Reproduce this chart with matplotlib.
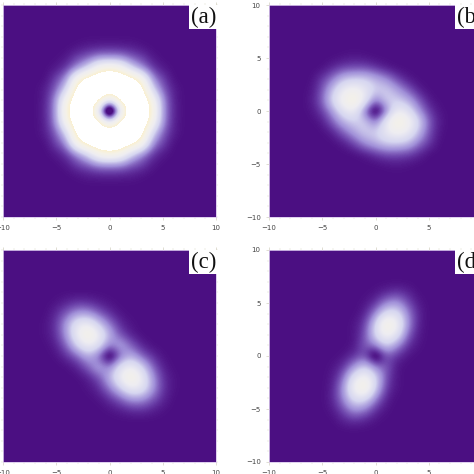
import numpy as np
import matplotlib
matplotlib.use("Agg")
import matplotlib.pyplot as plt
from matplotlib.colors import LinearSegmentedColormap
from matplotlib.patches import Rectangle

# Intensity, 0-11 scale (above 11 is the white plateau)
# rows go from y=7 down to y=-7, columns from x=-7 to x=7
# centre cells are below 0 so the dark core of the hole stays flat once smoothed
panel_a = [
    [0, 0, 0, 0, 0, 0, 0, 0, 0, 0, 0, 0, 0, 0, 0],
    [0, 0, 0, 0, .1, .3, .3, .4, .3, .3, .1, 0, 0, 0, 0],
    [0, 0, 0, .2, 1, 1.5, 2.5, 2.5, 2.5, 1.5, 1, .2, 0, 0, 0],
    [0, 0, .2, .8, 2.5, 5, 9.5, 10.8, 9.5, 5, 2.5, .8, .2, 0, 0],
    [0, 0, 1, 2.5, 10, 13, 14, 14, 14, 13, 10, 2.5, 1, 0, 0],
    [0, .3, 1.5, 5, 13, 14, 14, 14, 14, 14, 13, 5, 1.5, .3, 0],
    [0, .3, 2.5, 9.5, 14, 14, 12, 5, 12, 14, 14, 9.5, 2.5, .3, 0],
    [0, .4, 2.5, 10.8, 14, 14, 5, -10, 5, 14, 14, 10.8, 2.5, .4, 0],
    [0, .3, 2.5, 9.5, 14, 14, 12, 5, 12, 14, 14, 9.5, 2.5, .3, 0],
    [0, .3, 1.5, 5, 13, 14, 14, 14, 14, 14, 13, 5, 1.5, .3, 0],
    [0, 0, 1, 2.5, 10, 13, 14, 14, 14, 13, 10, 2.5, 1, 0, 0],
    [0, 0, .2, .8, 2.5, 5, 9.5, 10.8, 9.5, 5, 2.5, .8, .2, 0, 0],
    [0, 0, 0, .2, 1, 1.5, 2.5, 2.5, 2.5, 1.5, 1, .2, 0, 0, 0],
    [0, 0, 0, 0, .1, .3, .3, .4, .3, .3, .1, 0, 0, 0, 0],
    [0, 0, 0, 0, 0, 0, 0, 0, 0, 0, 0, 0, 0, 0, 0],
]

panel_b = [
    [0, 0, 0, 0, 0, 0, 0, 0, 0, 0, 0, 0, 0, 0, 0],
    [0, 0, 0, 0, 0, 0, 0, 0, 0, 0, 0, 0, 0, 0, 0],
    [0, 0, 0, 0, .1, .2, .1, 0, 0, 0, 0, 0, 0, 0, 0],
    [0, 0, 0, .5, 1, 1.2, 1.2, .7, .2, 0, 0, 0, 0, 0, 0],
    [0, 0, .8, 2, 4, 4.5, 4.5, 3.5, 2.5, 1, .2, 0, 0, 0, 0],
    [0, .1, 1.2, 4, 7, 8, 6.5, 4.5, 4.5, 3, 1.5, .3, 0, 0, 0],
    [0, .2, 1.5, 5, 8.5, 10.5, 6.5, 1.5, 4.5, 4.5, 3.5, 1.5, .2, 0, 0],
    [0, .1, .8, 2.8, 6, 7, 1.5, -2, 1.5, 7, 6, 2.8, .8, .1, 0],
    [0, 0, .2, 1.5, 3.5, 4.5, 4.5, 1.5, 6.5, 10.5, 8.5, 5, 1.5, .2, 0],
    [0, 0, 0, .3, 1.5, 3, 4.5, 4.5, 6.5, 8, 7, 4, 1.2, .1, 0],
    [0, 0, 0, 0, .2, 1, 2.5, 3.5, 4.5, 4.5, 4, 2, .8, 0, 0],
    [0, 0, 0, 0, 0, 0, .2, .7, 1.2, 1.2, 1, .5, 0, 0, 0],
    [0, 0, 0, 0, 0, 0, 0, 0, .1, .2, .1, 0, 0, 0, 0],
    [0, 0, 0, 0, 0, 0, 0, 0, 0, 0, 0, 0, 0, 0, 0],
    [0, 0, 0, 0, 0, 0, 0, 0, 0, 0, 0, 0, 0, 0, 0],
]

panel_c = [
    [0, 0, 0, 0, 0, 0, 0, 0, 0, 0, 0, 0, 0, 0, 0],
    [0, 0, 0, 0, 0, 0, 0, 0, 0, 0, 0, 0, 0, 0, 0],
    [0, 0, .1, .4, .7, .6, .3, .1, 0, 0, 0, 0, 0, 0, 0],
    [0, 0, .5, 1.5, 2.8, 2.8, 1.5, .6, .1, 0, 0, 0, 0, 0, 0],
    [0, .1, .7, 3, 6.5, 7, 4.3, 2, .5, .1, 0, 0, 0, 0, 0],
    [0, .1, .6, 2.8, 7, 10.5, 7, 3.5, 1.2, .3, 0, 0, 0, 0, 0],
    [0, 0, .3, 1.6, 4.8, 7, 5.5, 1.8, 3.5, 1.5, .4, 0, 0, 0, 0],
    [0, 0, .05, .6, 1.5, 3.5, 1.5, -2, 1.5, 3.5, 1.5, .6, .05, 0, 0],
    [0, 0, 0, 0, .4, 1.5, 3.5, 1.8, 5.5, 7, 4.8, 1.6, .3, 0, 0],
    [0, 0, 0, 0, 0, .3, 1.2, 3.5, 7, 10.5, 7, 2.8, .6, .1, 0],
    [0, 0, 0, 0, 0, .1, .5, 2, 4.3, 7, 6.5, 3, .7, .1, 0],
    [0, 0, 0, 0, 0, 0, .1, .6, 1.5, 2.8, 2.8, 1.5, .5, 0, 0],
    [0, 0, 0, 0, 0, 0, 0, .1, .3, .6, .7, .4, .1, 0, 0],
    [0, 0, 0, 0, 0, 0, 0, 0, 0, 0, 0, 0, 0, 0, 0],
    [0, 0, 0, 0, 0, 0, 0, 0, 0, 0, 0, 0, 0, 0, 0],
]

panel_d = [
    [0, 0, 0, 0, 0, 0, 0, 0, 0, 0, 0, 0, 0, 0, 0],
    [0, 0, 0, 0, 0, 0, 0, .1, .4, .7, .4, 0, 0, 0, 0],
    [0, 0, 0, 0, 0, 0, .1, .6, 2.2, 2.8, 1.2, .2, 0, 0, 0],
    [0, 0, 0, 0, 0, 0, .3, 2.2, 5.5, 5.6, 2.3, .4, 0, 0, 0],
    [0, 0, 0, 0, 0, .1, .8, 4.4, 10.5, 7.8, 2.6, .3, 0, 0, 0],
    [0, 0, 0, 0, 0, .1, 1.1, 4.9, 8.2, 6, 1.6, .2, 0, 0, 0],
    [0, 0, 0, 0, 0, .1, 1.5, 2, 4.5, 2.5, .6, .1, 0, 0, 0],
    [0, 0, 0, 0, .1, .6, 1.3, -2, 1.3, .6, .1, 0, 0, 0, 0],
    [0, 0, 0, .1, .6, 2.5, 4.5, 2, 1.5, .1, 0, 0, 0, 0, 0],
    [0, 0, 0, .2, 1.6, 6, 8.2, 4.9, 1.1, .1, 0, 0, 0, 0, 0],
    [0, 0, 0, .3, 2.6, 7.8, 10.5, 4.4, .8, .1, 0, 0, 0, 0, 0],
    [0, 0, 0, .4, 2.3, 5.6, 5.5, 2.2, .3, 0, 0, 0, 0, 0, 0],
    [0, 0, 0, .2, 1.2, 2.8, 2.2, .6, .1, 0, 0, 0, 0, 0, 0],
    [0, 0, 0, 0, .4, .7, .4, .1, 0, 0, 0, 0, 0, 0, 0],
    [0, 0, 0, 0, 0, 0, 0, 0, 0, 0, 0, 0, 0, 0, 0],
]

panel_labels = ["(a)", "(b)", "(c)", "(d)"]
tick_values = [-10, -5, 0, 5, 10]
tick_values_cut = [-10, -5, 0, 5]

W = 474
H = 474

cmap = LinearSegmentedColormap.from_list("density", [
    (0.0, "#4b0f82"),
    (0.08, "#6a3fa8"),
    (0.22, "#a08fd8"),
    (0.42, "#d6d6f0"),
    (0.65, "#eeedf2"),
    (0.85, "#f5f2e8"),
    (1.0, "#faf0d2"),
])
cmap.set_over("white")


def px_axes(fig, left, top, right, bottom):
    return fig.add_axes([left / W, 1 - bottom / H, (right - left) / W, (bottom - top) / H])


def draw_panel(ax, grid, label, xticks, yticks):
    # pad with the flat background out to +-10
    z = np.pad(np.array(grid, dtype=float), 3)
    ax.imshow(z, cmap=cmap, vmin=0, vmax=11, interpolation="bicubic",
              extent=(-10.5, 10.5, -10.5, 10.5), origin="upper", aspect="auto")
    ax.set_xlim(-10, 10)
    ax.set_ylim(-10, 10)
    ax.set_xticks(xticks)
    ax.set_yticks(yticks)
    ax.set_xticks(np.arange(-10, 11), minor=True)
    ax.set_yticks(np.arange(-10, 11), minor=True)
    ax.tick_params(which="major", length=2.5, width=0.4, color="#c8c4b0", labelsize=5,
                   labelcolor="#444444", pad=3.5, top=True, right=True)
    ax.tick_params(which="minor", length=1.2, width=0.3, color="#d8d4c4", top=True, right=True)
    for s in ax.spines.values():
        s.set_color("#d9c8ec")
        s.set_linewidth(0.6)
    # white box behind the panel letter
    ax.add_patch(Rectangle((0.873, 0.888), 0.3, 0.112, transform=ax.transAxes,
                           facecolor="white", edgecolor="none", zorder=5, clip_on=False))
    ax.text(0.883, 0.94, label, transform=ax.transAxes, family="Liberation Serif",
            fontsize=16.5, color="#111111", ha="left", va="center", zorder=6, clip_on=False)


fig = plt.figure(figsize=(W / 100, H / 100), dpi=100, facecolor="white")

ax_a = px_axes(fig, 3, 5, 216, 217)
ax_b = px_axes(fig, 269, 5, 482, 217)
ax_c = px_axes(fig, 3, 250, 216, 462)
ax_d = px_axes(fig, 269, 250, 482, 462)

draw_panel(ax_a, panel_a, panel_labels[0], tick_values, [])
draw_panel(ax_b, panel_b, panel_labels[1], tick_values_cut, tick_values)
draw_panel(ax_c, panel_c, panel_labels[2], tick_values, [])
draw_panel(ax_d, panel_d, panel_labels[3], tick_values_cut, tick_values)

fig.savefig("out.png", dpi=100)
